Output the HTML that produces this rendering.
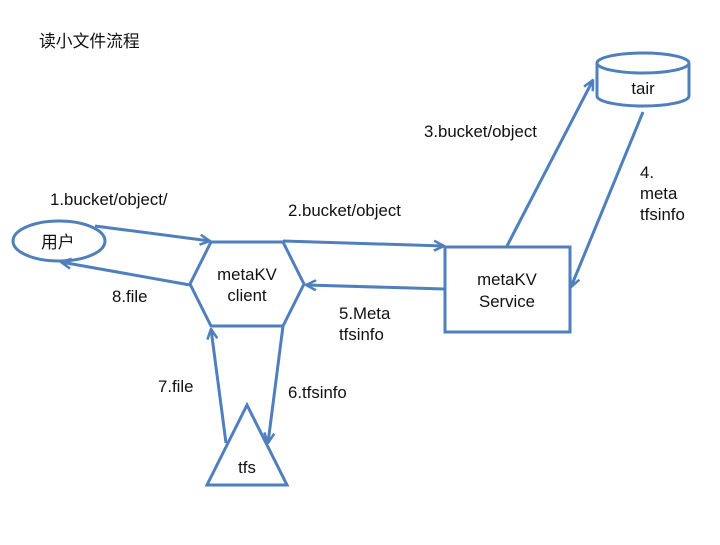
<!DOCTYPE html>
<html><head><meta charset="utf-8"><style>
body{margin:0;background:#fff}
svg text{font-family:"Liberation Sans","Noto Sans CJK SC",sans-serif;fill:#111;font-size:16.8px}
</style></head><body>
<svg width="720" height="540" viewBox="0 0 720 540" xmlns="http://www.w3.org/2000/svg">
<defs><marker id="a" viewBox="0 0 12 12" refX="11" refY="6" markerWidth="12" markerHeight="12" markerUnits="userSpaceOnUse" orient="auto"><path d="M1,1 L11,6 L1,11" fill="none" stroke="#4f7fbd" stroke-width="2.5"/></marker></defs>
<g fill="none" stroke="#4f7fbd" stroke-width="3">
<ellipse cx="59" cy="241" rx="46" ry="20"/>
<polygon points="211,242 283,242 304,284 283,326 211,326 190,284"/>
<rect x="445" y="247" width="125" height="85"/>
<path d="M597,63 L597,96 A46,10 0 0 0 689,96 L689,63"/>
<ellipse cx="643" cy="63" rx="46" ry="10"/>
<polygon points="247,405 287,485 207,485"/>
<line x1="95" y1="226" x2="210" y2="241" marker-end="url(#a)"/>
<line x1="190" y1="285" x2="61" y2="262" marker-end="url(#a)"/>
<line x1="283" y1="241" x2="444" y2="246" marker-end="url(#a)"/>
<line x1="445" y1="289" x2="306" y2="285" marker-end="url(#a)"/>
<line x1="507" y1="246" x2="593" y2="80" marker-end="url(#a)"/>
<line x1="643" y1="112" x2="571" y2="287" marker-end="url(#a)"/>
<line x1="283" y1="326" x2="268" y2="443" marker-end="url(#a)"/>
<line x1="226" y1="443" x2="211" y2="329" marker-end="url(#a)"/>
</g>
<text x="39" y="47" font-size="17.5">读小文件流程</text>
<text x="41" y="248" font-size="17">用户</text>
<text x="247" y="280" text-anchor="middle">metaKV</text>
<text x="247" y="301" text-anchor="middle">client</text>
<text x="507" y="285" text-anchor="middle">metaKV</text>
<text x="507" y="307" text-anchor="middle">Service</text>
<text x="643" y="94" text-anchor="middle">tair</text>
<text x="247" y="473" text-anchor="middle">tfs</text>
<text x="50" y="205">1.bucket/object/</text>
<text x="288" y="216">2.bucket/object</text>
<text x="424" y="137">3.bucket/object</text>
<text x="640" y="178">4.</text>
<text x="640" y="199">meta</text>
<text x="640" y="220">tfsinfo</text>
<text x="339" y="319">5.Meta</text>
<text x="339" y="340">tfsinfo</text>
<text x="288" y="398">6.tfsinfo</text>
<text x="158" y="392">7.file</text>
<text x="112" y="302">8.file</text>
</svg>
</body></html>
